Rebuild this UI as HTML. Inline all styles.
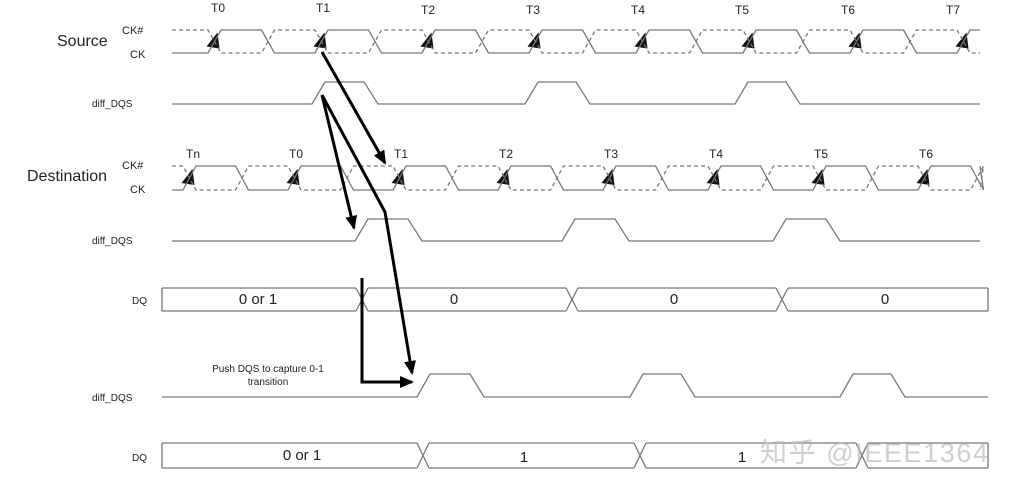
<!DOCTYPE html>
<html><head><meta charset="utf-8"><style>
body{margin:0;background:#fff;width:1010px;height:490px;overflow:hidden}
svg{display:block}
text{font-family:"Liberation Sans",Arial,sans-serif;fill:#222}
</style></head><body>
<svg id="s" width="1010" height="490" xmlns="http://www.w3.org/2000/svg">
<defs><marker id="ab" markerWidth="14" markerHeight="12" refX="12" refY="6" orient="auto" markerUnits="userSpaceOnUse"><path d="M0,0 L14,6 L0,12 Z" fill="#000"/></marker></defs>
<g font-size="16"><text x="57" y="46">Source</text><text x="27" y="181">Destination</text></g>
<g font-size="11"><text x="122" y="34">CK#</text><text x="130" y="58">CK</text><text x="122" y="169">CK#</text><text x="130" y="193">CK</text></g>
<g font-size="10"><text x="92" y="107">diff_DQS</text><text x="92" y="244">diff_DQS</text><text x="132" y="304">DQ</text><text x="92" y="401">diff_DQS</text><text x="132" y="461">DQ</text></g>
<g font-size="12" text-anchor="middle">
<text x="218" y="12">T0</text><text x="323" y="12">T1</text><text x="428" y="14">T2</text><text x="533" y="14">T3</text><text x="638" y="14">T4</text><text x="742" y="14">T5</text><text x="848" y="14">T6</text><text x="953" y="14">T7</text>
<text x="193" y="158">Tn</text><text x="296" y="158">T0</text><text x="401" y="158">T1</text><text x="506" y="158">T2</text><text x="611" y="158">T3</text><text x="716" y="158">T4</text><text x="821" y="158">T5</text><text x="926" y="158">T6</text>
</g>
<g id="g" fill="none" stroke="#777" stroke-width="1.3"></g>
<g font-size="15" text-anchor="middle"><text x="258" y="304">0 or 1</text><text x="454" y="304">0</text><text x="674" y="304">0</text><text x="885" y="304">0</text>
<text x="302" y="460">0 or 1</text><text x="524" y="462">1</text><text x="742" y="462">1</text></g>
<text x="268" y="372" font-size="10" text-anchor="middle">Push DQS to capture 0-1</text>
<text x="268" y="385" font-size="10" text-anchor="middle">transition</text>
<text x="760" y="462" font-size="27" textLength="228" style="fill:#bbb;fill-opacity:0.7">知乎 @IEEE1364</text>
<g stroke="#000" stroke-width="3" fill="none">
<path d="M322,52 L385,163" marker-end="url(#ab)"/>
<path d="M322,95 L354,228" marker-end="url(#ab)"/>
<path d="M322,95 L385,212 L412,373" marker-end="url(#ab)"/>
<path d="M362,278 L362,382 L412,382" marker-end="url(#ab)"/>
</g>
</svg>
<script>
var g=document.getElementById('g'),NS="http://www.w3.org/2000/svg";
function p(d,dash,fill){var e=document.createElementNS(NS,'path');e.setAttribute('d',d);if(dash)e.setAttribute('stroke-dasharray','4,3');if(fill){e.setAttribute('fill','#111');e.setAttribute('stroke','none');}g.appendChild(e);}
function clk(x0,P,n,yh,yl,xs,xe){var t=13,a="M"+xs+","+yl,b="M"+xs+","+yh;
for(var k=0;k<n;k++){var r=x0+k*P,f=r+P/2;
a+=" L"+r+","+yl+" L"+(r+t)+","+yh;if(f<xe)a+=" L"+f+","+yh+" L"+(f+t)+","+yl;
b+=" L"+r+","+yh+" L"+(r+t)+","+yl;if(f<xe)b+=" L"+f+","+yl+" L"+(f+t)+","+yh;
var mx=r+t/2,my=(yh+yl)/2;p("M"+(mx+3)+","+(my-9)+" L"+(mx+5)+","+(my+7)+" L"+(mx-8)+","+(my+5)+"Z",0,1);}
a+=" L"+xe+","+yh;b+=" L"+xe+","+yl;
p(a,0);p(b,1);}
clk(208,107,8,30,53,172,980);
clk(183,105,8,166,190,172,980);
function dqs(pul,yh,yl,xs,xe){var d="M"+xs+","+yl;pul.forEach(function(q){d+=" L"+q[0]+","+yl+" L"+(q[0]+13)+","+yh+" L"+q[1]+","+yh+" L"+(q[1]+14)+","+yl;});d+=" L"+xe+","+yl;p(d);}
dqs([[312,364],[525,576],[735,786]],82,104,172,980);
dqs([[355,408],[562,615],[773,826]],219,241,172,980);
dqs([[417,470],[630,681],[840,891]],374,397,162,988);
function bus(xs,xe,cr,yt,yb){var w=6;
p("M"+xs+","+yt+" L"+xs+","+yb+" M"+xe+","+yt+" L"+xe+","+yb);
var all=[xs].concat(cr).concat([xe]);
for(var i=0;i<all.length-1;i++){var a=i==0?all[i]:all[i]+w,b=i==all.length-2?all[i+1]:all[i+1]-w;p("M"+a+","+yt+" L"+b+","+yt+" M"+a+","+yb+" L"+b+","+yb);}
cr.forEach(function(c){p("M"+(c-w)+","+yt+" L"+(c+w)+","+yb+" M"+(c-w)+","+yb+" L"+(c+w)+","+yt);});}
bus(162,988,[362,572,782],288,311);
bus(162,988,[423,640,862],443,468);
</script>
</body></html>
